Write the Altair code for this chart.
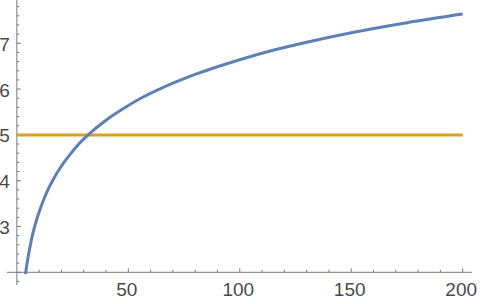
import altair as alt
import pandas as pd

# Curve samples (blue line)
curve_x = [3.9, 4, 5, 6, 7, 8, 10, 12, 14, 16, 20, 24, 28, 32, 40, 48, 56, 64, 80, 96, 112, 128, 150, 175, 200]
curve_y = [1.96, 2.00, 2.32, 2.58, 2.81, 3.00, 3.32, 3.58, 3.81, 4.00, 4.32, 4.58, 4.81, 5.00, 5.32, 5.58, 5.81,
           6.00, 6.32, 6.58, 6.81, 7.00, 7.23, 7.45, 7.64]
# Constant (orange line)
const_x = [0, 200]
const_y = [5, 5]

x_major = [50, 100, 150, 200]
x_labels = ["50", "100", "150", "200"]
x_minor = [10, 20, 30, 40, 60, 70, 80, 90, 110, 120, 130, 140, 160, 170, 180, 190]
y_major = [2, 3, 4, 5, 6, 7]
y_labels_vals = [3, 4, 5, 6, 7]
y_labels = ["3", "4", "5", "6", "7"]
y_minor = [1.8, 2.2, 2.4, 2.6, 2.8, 3.2, 3.4, 3.6, 3.8, 4.2, 4.4, 4.6, 4.8, 5.2, 5.4, 5.6, 5.8,
           6.2, 6.4, 6.6, 6.8, 7.2, 7.4, 7.6, 7.8]

X_DOM = [-7.56, 207.78]
Y_DOM = [1.308, 7.945]
xs = alt.Scale(domain=X_DOM, nice=False, zero=False)
ys = alt.Scale(domain=Y_DOM, nice=False, zero=False)

AX = "#7a7a7a"
LBL = "#4a4a4a"
FONT = "Liberation Sans"

def X(f="x"):
    return alt.X(f, type="quantitative", scale=xs, axis=None)

def Y(f="y"):
    return alt.Y(f, type="quantitative", scale=ys, axis=None)

# axis lines
axes_df = pd.DataFrame({"x": [-4.42, 0.0], "x2": [204.1, 0.0], "y": [2.0, 1.72], "y2": [2.0, 7.945]})
axes = alt.Chart(axes_df).mark_rule(color=AX, strokeWidth=1).encode(
    x=X(), x2="x2", y=Y(), y2="y2")

def xticks(vals, length):
    df = pd.DataFrame({"x": vals, "y": [2.0] * len(vals)})
    return alt.Chart(df).mark_rule(color=AX, strokeWidth=1, y2Offset=-length).encode(
        x=X(), y=Y(), y2="y")

def yticks(vals, length):
    df = pd.DataFrame({"y": vals, "x": [0.0] * len(vals)})
    return alt.Chart(df).mark_rule(color=AX, strokeWidth=1, x2Offset=length).encode(
        y=Y(), x=X(), x2="x")

xmaj = xticks(x_major, 4)
xmin = xticks(x_minor, 2.5)
ymaj = yticks(y_major, 4)
ymin = yticks(y_minor, 2.5)

xlab = alt.Chart(pd.DataFrame({"x": x_major, "t": x_labels, "y": [2.0] * len(x_major)})).mark_text(
    font=FONT, fontSize=19, color=LBL, baseline="alphabetic", align="center", dy=24, dx=-1.5).encode(
    x=X(), y=Y(), text="t:N")
ylab = alt.Chart(pd.DataFrame({"y": y_labels_vals, "t": y_labels, "x": [0.0] * len(y_labels)})).mark_text(
    font=FONT, fontSize=19, color=LBL, baseline="middle", align="right", dx=-7, dy=1.5).encode(
    y=Y(), x=X(), text="t:N")

blue = alt.Chart(pd.DataFrame({"x": curve_x, "y": curve_y})).mark_line(
    color="#5E81B5", strokeWidth=3, interpolate="monotone").encode(x=X(), y=Y())
orange = alt.Chart(pd.DataFrame({"x": const_x, "y": const_y})).mark_line(
    color="#E19C24", strokeWidth=3).encode(x=X(), y=Y())

chart = alt.layer(axes, xmaj, xmin, ymaj, ymin, xlab, ylab, orange, blue).properties(
    width=480, height=304, autosize=alt.AutoSizeParams(type="none"), padding=0,
    background="white"
).configure_view(stroke=None)

chart.save("out.html", embed_options={"renderer": "svg", "actions": False})
